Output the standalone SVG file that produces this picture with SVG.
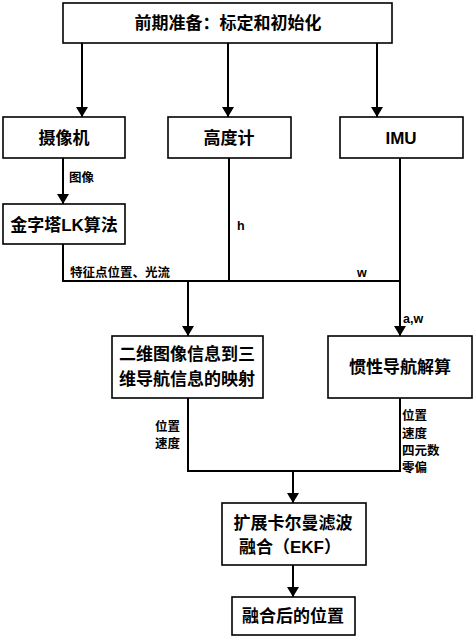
<svg xmlns="http://www.w3.org/2000/svg" width="474" height="639" viewBox="0 0 474 639">
<style>
.box{fill:#fff;stroke:#000;stroke-width:1.6}
.t{font-family:"Liberation Sans","Noto Sans CJK SC",sans-serif;font-weight:bold;font-size:17px;fill:#000;text-anchor:middle}
.s{font-family:"Liberation Sans","Noto Sans CJK SC",sans-serif;font-weight:bold;font-size:12.5px;fill:#000}
.ln{fill:none;stroke:#000;stroke-width:2}
</style>
<defs>
<marker id="ah" markerUnits="userSpaceOnUse" markerWidth="10" markerHeight="12" viewBox="0 0 10 12" refX="10" refY="6" orient="auto">
<path d="M0,0 L10,6 L0,12 Z" fill="#000"/>
</marker>
</defs>
<g id="connectors">
<line class="ln" x1="82" y1="43" x2="82" y2="117" marker-end="url(#ah)"/>
<line class="ln" x1="228" y1="43" x2="228" y2="117" marker-end="url(#ah)"/>
<line class="ln" x1="377" y1="43" x2="377" y2="117" marker-end="url(#ah)"/>
<line class="ln" x1="63" y1="158" x2="63" y2="204" marker-end="url(#ah)"/>
<polyline class="ln" points="63,244 63,281 400,281"/>
<line class="ln" x1="229" y1="158" x2="229" y2="281"/>
<line class="ln" x1="400" y1="158" x2="400" y2="336" marker-end="url(#ah)"/>
<line class="ln" x1="188" y1="281" x2="188" y2="336" marker-end="url(#ah)"/>
<polyline class="ln" points="188,398 188,471 400,471 400,398"/>
<line class="ln" x1="293" y1="471" x2="293" y2="503" marker-end="url(#ah)"/>
<line class="ln" x1="293" y1="565" x2="293" y2="597" marker-end="url(#ah)"/>
<text class="s" x="69" y="182">图像</text>
<text class="s" x="237" y="230">h</text>
<text class="s" x="70" y="277">特征点位置、光流</text>
<text class="s" x="357" y="277">w</text>
<text class="s" x="403" y="323">a,w</text>
<text class="s" x="155" y="431">位置</text>
<text class="s" x="155" y="448">速度</text>
<text class="s" x="402" y="420">位置</text>
<text class="s" x="402" y="438">速度</text>
<text class="s" x="402" y="455">四元数</text>
<text class="s" x="402" y="472">零偏</text>
</g>
<g id="prep"><rect class="box" x="63" y="3" width="329" height="40"/><text class="t" x="228" y="29">前期准备：标定和初始化</text></g>
<g id="camera"><rect class="box" x="3" y="117" width="122" height="41"/><text class="t" x="64" y="144">摄像机</text></g>
<g id="altimeter"><rect class="box" x="168" y="117" width="123" height="41"/><text class="t" x="229" y="144">高度计</text></g>
<g id="imu"><rect class="box" x="340" y="117" width="123" height="41"/><text class="t" x="401" y="144">IMU</text></g>
<g id="lk"><rect class="box" x="3" y="204" width="122" height="40"/><text class="t" x="64" y="231">金字塔LK算法</text></g>
<g id="mapping"><rect class="box" x="112" y="336" width="151" height="62"/><text class="t" x="187" y="360">二维图像信息到三</text><text class="t" x="187" y="385">维导航信息的映射</text></g>
<g id="ins"><rect class="box" x="328" y="336" width="144" height="62"/><text class="t" x="400" y="373">惯性导航解算</text></g>
<g id="ekf"><rect class="box" x="222" y="503" width="144" height="62"/><text class="t" x="293" y="529">扩展卡尔曼滤波</text><text class="t" x="290" y="553">融合（EKF）</text></g>
<g id="result"><rect class="box" x="232" y="597" width="123" height="38"/><text class="t" x="293" y="622">融合后的位置</text></g>
</svg>
